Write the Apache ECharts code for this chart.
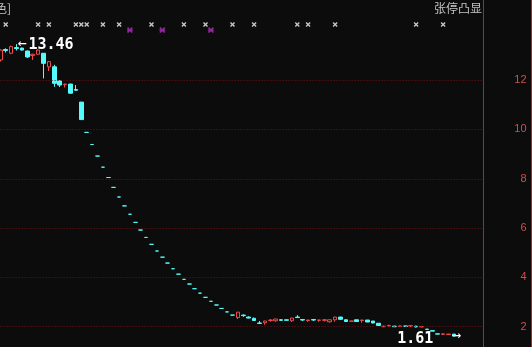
<!DOCTYPE html>
<html><head><meta charset="utf-8">
<style>html,body{margin:0;padding:0;background:#0c0c0c}#c{width:532px;height:347px}</style>
<script src="https://cdn.jsdelivr.net/npm/echarts@6/dist/echarts.min.js"></script>
</head><body><div id="c"></div>
<script>
// OHLC values
const opens = [12.82,13.24,13.09,13.32,13.30,13.18,13.00,13.05,13.09,12.54,
12.54,11.97,11.82,11.84,11.62,11.11,9.88,9.39,8.92,8.47,
8.05,7.65,7.26,6.90,6.56,6.23,5.92,5.62,5.34,5.07,
4.82,4.58,4.35,4.13,3.92,3.73,3.54,3.36,3.19,3.03,
2.88,2.74,2.60,2.47,2.37,2.47,2.39,2.34,2.15,2.16,
2.25,2.24,2.28,2.28,2.24,2.39,2.29,2.25,2.29,2.26,
2.26,2.20,2.28,2.39,2.28,2.22,2.28,2.25,2.27,2.23,
2.14,2.00,2.03,2.02,2.01,2.03,2.02,2.02,1.99,1.90,
1.84,1.71,1.69,1.68,1.70];
const closes = [13.22,13.20,13.36,13.28,13.22,12.94,13.05,13.22,12.68,12.75,
11.87,11.80,11.84,11.47,11.59,10.40,9.88,9.39,8.92,8.47,
8.05,7.65,7.26,6.90,6.56,6.23,5.92,5.62,5.34,5.07,
4.82,4.58,4.35,4.13,3.92,3.73,3.54,3.36,3.19,3.03,
2.88,2.74,2.60,2.47,2.59,2.45,2.35,2.25,2.13,2.23,
2.27,2.31,2.26,2.26,2.35,2.37,2.27,2.27,2.27,2.27,
2.28,2.28,2.39,2.30,2.21,2.23,2.21,2.27,2.19,2.15,
2.05,2.02,2.05,2.00,2.03,2.01,2.04,1.99,2.01,1.89,
1.82,1.70,1.71,1.70,1.62];
const lows = [12.75,13.12,13.05,13.20,13.20,12.90,12.82,13.02,12.07,12.37,
11.73,11.72,11.70,11.45,11.57,10.40,9.88,9.39,8.92,8.47,
8.05,7.65,7.26,6.90,6.56,6.23,5.92,5.62,5.34,5.07,
4.82,4.58,4.35,4.13,3.92,3.73,3.54,3.36,3.19,3.03,
2.88,2.74,2.60,2.47,2.31,2.40,2.34,2.24,2.13,2.08,
2.20,2.20,2.23,2.26,2.19,2.36,2.23,2.20,2.23,2.20,
2.21,2.17,2.20,2.27,2.20,2.22,2.20,2.16,2.19,2.14,
2.04,1.98,2.00,1.98,1.99,1.99,2.00,1.97,1.97,1.89,
1.82,1.70,1.67,1.66,1.61];
const highs = [13.25,13.29,13.40,13.46,13.32,13.20,13.07,13.25,13.10,12.77,
12.62,12.00,11.85,11.85,11.80,11.11,9.88,9.39,8.92,8.47,
8.05,7.65,7.26,6.90,6.56,6.23,5.92,5.62,5.34,5.07,
4.82,4.58,4.35,4.13,3.92,3.73,3.54,3.36,3.19,3.03,
2.88,2.74,2.60,2.47,2.59,2.50,2.42,2.37,2.23,2.24,
2.31,2.32,2.31,2.28,2.36,2.47,2.31,2.28,2.31,2.28,
2.31,2.29,2.40,2.40,2.29,2.24,2.28,2.28,2.27,2.23,
2.14,2.04,2.08,2.04,2.05,2.04,2.07,2.04,2.03,1.90,
1.84,1.71,1.72,1.71,1.70];
// signal markers (category indices)
const whiteMarks = [1,7,9,14,15,16,19,22,28,34,38,43,47,55,57,62,77,82];
const purpleMarks = [24,30,39];
// y-axis tick labels
const yTicks = [2,4,6,8,10,12];
const titleLeft = '色]';
const titleRight = '张停凸显';

const categories = opens.map((_, i) => String(i + 1));
const candleData = opens.map((o, i) => [o, closes[i], lows[i], highs[i]]);

let hiIdx = 0, loIdx = 0;
highs.forEach((h, i) => { if (h > highs[hiIdx]) hiIdx = i; });
lows.forEach((l, i) => { if (l < lows[loIdx]) loIdx = i; });

const WHITE_LEVEL = 14.26, PURPLE_LEVEL = 14.03;
const UP = '#ee4848', DOWN = '#54fcfc';
const numFont = 'DejaVu Sans Mono';

const chart = echarts.init(document.getElementById('c'), null, {renderer: 'canvas'});
chart.setOption({
  backgroundColor: '#0c0c0c',
  animation: false,
  grid: {left: -2.4, right: 48.4, top: 0, bottom: -29, outerBoundsMode: 'none', containLabel: false},
  xAxis: {type: 'category', data: categories, max: 89, boundaryGap: true, show: false},
  yAxis: {
    type: 'value', position: 'right', min: 0, max: 15.25, interval: 2,
    axisLine: {show: true, lineStyle: {color: '#b02424', width: 1}},
    axisTick: {show: false}, splitLine: {show: false},
    axisLabel: {color: '#cc5050', fontSize: 11, fontFamily: 'Liberation Sans', align: 'right', margin: 43,
      formatter: v => yTicks.includes(v) ? String(v) : ''}
  },
  graphic: [
    {type: 'text', x: -5, y: 2, style: {text: titleLeft, font: '12px "Noto Sans CJK SC"', fill: '#c4c4c4'}},
    {type: 'text', x: 434, y: 2, style: {text: titleRight, font: '12px "Noto Sans CJK SC"', fill: '#c4c4c4'}},
    {type: 'line', shape: {x1: 531.5, y1: 0, x2: 531.5, y2: 347}, style: {stroke: '#b02424', lineWidth: 1}}
  ],
  series: [
    {
      type: 'line', data: [], z: 1, silent: true,
      markLine: {
        silent: true, symbol: ['none', 'none'], label: {show: false},
        lineStyle: {color: '#7a0f0f', type: [1, 2], width: 1},
        data: yTicks.map(v => ({yAxis: v}))
      }
    },
    {
      type: 'candlestick', data: candleData, z: 3, barWidth: 4,
      itemStyle: {color: '#0c0c0c', color0: DOWN, borderColor: UP, borderColor0: DOWN, borderWidth: 1},
      markPoint: {
        silent: true, symbol: 'circle', symbolSize: 1, itemStyle: {color: 'rgba(0,0,0,0)'},
        data: [
          {coord: [hiIdx, highs[hiIdx]], label: {show: true, formatter: '←', position: 'right', distance: 0.5, color: '#fff', fontFamily: numFont, fontSize: 15}},
          {coord: [hiIdx, highs[hiIdx]], label: {show: true, formatter: String(highs[hiIdx].toFixed(2)), position: 'right', distance: 11.5, offset: [0, 1], color: '#fff', fontFamily: numFont, fontWeight: 'bold', fontSize: 15}},
          {coord: [loIdx, lows[loIdx]], label: {show: true, formatter: '→', position: 'right', distance: -2.5, color: '#fff', fontFamily: numFont, fontSize: 15}},
          {coord: [loIdx, lows[loIdx]], label: {show: true, formatter: String(lows[loIdx].toFixed(2)), position: 'left', distance: 20, offset: [0, 3], color: '#fff', fontFamily: numFont, fontWeight: 'bold', fontSize: 15}}
        ]
      }
    },
    {
      type: 'scatter', z: 4, silent: true, symbolSize: 5,
      symbol: 'path://M0,2L2,0L5,3L8,0L10,2L7,5L10,8L8,10L5,7L2,10L0,8L3,5Z',
      itemStyle: {color: '#f4f4f4'},
      data: whiteMarks.map(i => [i, WHITE_LEVEL])
    },
    {
      type: 'scatter', z: 4, silent: true, symbolSize: 6,
      symbol: 'path://M0,2L2,0L5,3L8,0L10,2L7,5L10,8L8,10L5,7L2,10L0,8L3,5Z M0,4L10,4L10,6L0,6Z',
      itemStyle: {color: '#b030c0'},
      data: purpleMarks.map(i => [i, PURPLE_LEVEL])
    }
  ]
});
</script></body></html>
